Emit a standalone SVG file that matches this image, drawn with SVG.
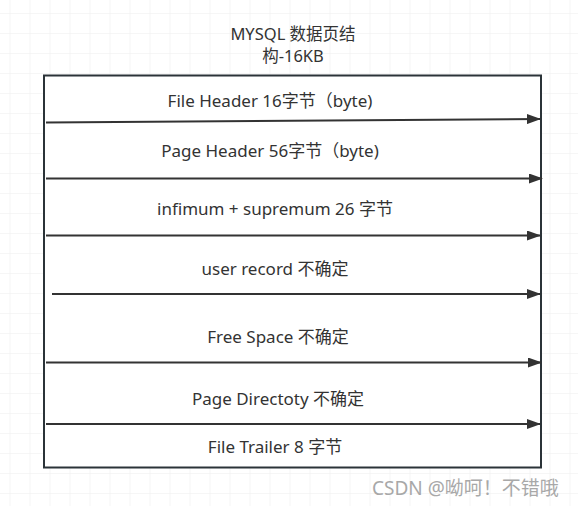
<svg xmlns="http://www.w3.org/2000/svg" width="578" height="506" viewBox="0 0 578 506">
<defs>
<pattern id="grid" x="9.5" y="13" width="20" height="20" patternUnits="userSpaceOnUse">
<path d="M0 0H20M0 0V20" fill="none" stroke="#eeeeee" stroke-width="1.2"/>
</pattern>
<marker id="ah" viewBox="0 0 14 10" refX="13" refY="5" markerWidth="14" markerHeight="10" markerUnits="userSpaceOnUse" orient="auto">
<path d="M0 0L14 5L0 10Z" fill="#333333"/>
</marker>
<style>
.lbl{font-family:"Noto Sans","Noto Sans CJK SC",sans-serif;font-size:17px;fill:#333333;text-anchor:middle}
.ttl{font-family:"Noto Sans","Noto Sans CJK SC",sans-serif;font-size:16.5px;fill:#333333;text-anchor:middle}
.wm{font-family:"Noto Sans","Noto Sans CJK SC",sans-serif;font-size:19px;fill:#a8a8a8}
.conn{stroke:#333333;stroke-width:2;fill:none;marker-end:url(#ah)}
</style>
</defs>
<rect width="578" height="506" fill="#ffffff"/>
<rect width="578" height="506" fill="url(#grid)"/>
<g id="title">
<text class="ttl" x="293" y="40">MYSQL 数据页结</text>
<text class="ttl" x="293" y="62">构-16KB</text>
</g>
<g id="page">
<rect x="44" y="75.5" width="497" height="392" fill="#ffffff" stroke="#2b3338" stroke-width="2"/>
</g>
<g id="connectors">
<path class="conn" d="M46 122.5L540 119"/>
<path class="conn" d="M46 178.5L542 178.5"/>
<path class="conn" d="M46 235.5L540 235.5"/>
<path class="conn" d="M52 294L540 294"/>
<path class="conn" d="M46 362.5L541 362.5"/>
<path class="conn" d="M46 424L540 424"/>
</g>
<g id="file-header"><text class="lbl" x="270" y="107">File Header 16字节（byte)</text></g>
<g id="page-header"><text class="lbl" x="270" y="157">Page Header 56字节（byte)</text></g>
<g id="infimum-supremum"><text class="lbl" x="275" y="215">infimum + supremum 26 字节</text></g>
<g id="user-record"><text class="lbl" x="275" y="275">user record 不确定</text></g>
<g id="free-space"><text class="lbl" x="278" y="343">Free Space 不确定</text></g>
<g id="page-directory"><text class="lbl" x="278" y="405">Page Directoty 不确定</text></g>
<g id="file-trailer"><text class="lbl" x="275" y="453">File Trailer 8 字节</text></g>
<text class="wm" x="372" y="495">CSDN @呦呵！不错哦</text>
</svg>
